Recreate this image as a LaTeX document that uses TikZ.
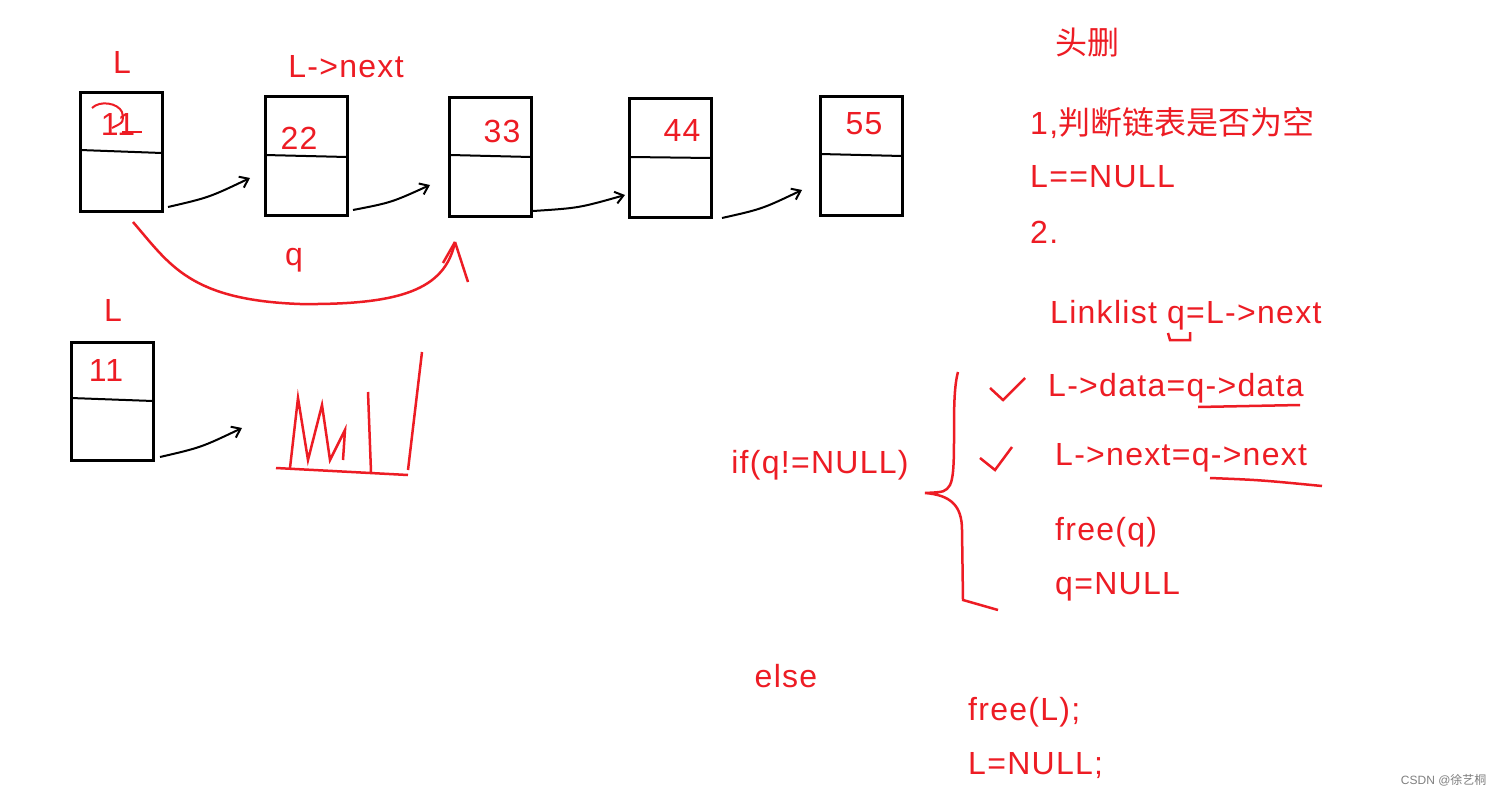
\documentclass[tikz,border=0pt]{standalone}
\usepackage{fontspec}
\setmainfont{Liberation Sans}
\newfontfamily\cjk{Noto Sans CJK SC}
\usetikzlibrary{arrows.meta,calc}
\definecolor{rd}{RGB}{237,28,36}
\begin{document}
\begin{tikzpicture}[x=1pt,y=-1pt,
 cell/.style={draw,line width=3pt,minimum width=82pt,minimum height=118pt,inner sep=0},
 txt/.style={text=rd,font=\fontsize{32}{36}\selectfont\addfontfeature{LetterSpace=4},inner sep=0},
 ltxt/.style={txt,anchor=west},
 blk/.style={line width=2pt,-{Straight Barb[length=8pt,width=12pt]}},
 rl/.style={draw=rd,line width=2.5pt}]
\useasboundingbox[fill=white] (0,0) rectangle (1503,797);
% boxes
\node[cell] (b1) at (121,152) {}; \draw[line width=2pt] (80,150)--(162,153);
\node[cell] (b2) at (306,156) {}; \draw[line width=2pt] (265,155)--(347,157);
\node[cell] (b3) at (490,157) {}; \draw[line width=2pt] (450,155)--(531,157);
\node[cell] (b4) at (670,158) {}; \draw[line width=2pt] (630,157)--(711,158);
\node[cell] (b5) at (861,156) {}; \draw[line width=2pt] (820,154)--(902,156);
\node[cell] (b6) at (112,401) {}; \draw[line width=2pt] (71,398)--(153,401);
% black arrows
\coordinate (a1) at (168,207); \coordinate (a1e) at (250,178);
\coordinate (a2) at (353,210); \coordinate (a2e) at (430,185);
\coordinate (a3) at (533,211); \coordinate (a3e) at (625,195);
\coordinate (a4) at (722,218); \coordinate (a4e) at (802,190);
\coordinate (a5) at (160,457); \coordinate (a5e) at (242,428);
\foreach \s/\e in {a1/a1e,a2/a2e,a3/a3e,a4/a4e,a5/a5e}
 \draw[blk] (\s) .. controls ($(\s)!0.5!(\e)+(0,5)$) .. (\e);
% red curve
\coordinate (r0) at (133,222); \coordinate (r1) at (455,242);
\draw[rl] (r0) .. controls (170,265) and (190,300) .. (300,304)
 .. controls (400,305) and (445,290) .. (r1);
\draw[rl] (r1)--(443,263); \draw[rl] (r1)--(468,282);
% NULL scribble
\draw[rl] (276,468)--(408,475);
\draw[rl] (290,468)--(298,398)--(308,460)--(322,405)--(330,460)--(345,430)--(343,460);
\draw[rl] (371,472)--(368,392); \draw[rl] (408,470)--(422,352);
% texts
\node[txt] (tL) at (122,62) {L};
\node[txt] (tLn) at (346,67) {L->next};
\node[txt] (tq) at (294,260) {q};
\node[txt] (tL2) at (113,310) {L};
\node[txt] (n1) at (118,124) {11};
\draw[rl,line width=2pt] (92,108)..controls(100,100)and(118,103)..(122,112)..controls(124,122)..(112,128);
\draw[rl,line width=2pt] (122,132)--(142,132);
\node[txt] (n2) at (299,138) {22};
\node[txt] (n3) at (502,131) {33};
\node[txt] (n4) at (682,130) {44};
\node[txt] (n5) at (864,124) {55};
\node[txt] (n6) at (106,370) {11};
\node[txt] (h) at (1087,43) {\cjk 头删};
\node[ltxt] (s1) at (1030,123) {1,{\cjk 判断链表是否为空}};
\node[ltxt] (s2) at (1030,177) {L==NULL};
\node[ltxt] (s3) at (1030,232) {2.};
\node[ltxt] (s4) at (1050,315) {Linklist q=L->next};
\node[ltxt] (s5) at (1048,388) {L->data=q->data};
\node[ltxt] (s6) at (1055,458) {L->next=q->next};
\node[ltxt] (s7) at (1055,532) {free(q)};
\node[ltxt] (s8) at (1055,587) {q=NULL};
\node[txt] (if) at (820,465) {if(q!=NULL)};
\node[txt] (el) at (786,676) {else};
\node[ltxt] (f1) at (968,712) {free(L);};
\node[ltxt] (f2) at (968,766) {L=NULL;};
\node[text=gray,font=\fontsize{12}{14}\selectfont,anchor=east] (wm) at (1490,780) {CSDN @{\cjk 徐艺桐}};
% brace
\draw[rl] (958,372) .. controls (950,400) and (958,470) .. (950,485)
 .. controls (945,492) .. (925,493) .. controls (950,495) and (962,505) .. (962,530)
 -- (963,600) -- (998,610);
% checks
\draw[rl] (990,388)--(1003,400)--(1025,378);
\draw[rl] (980,458)--(995,470)--(1012,447);
% underlines
\draw[rl] (1198,407)--(1300,405);
\draw[rl] (1210,478)..controls(1260,480)..(1322,486);
\draw[rl] (1168,333)--(1170,340)--(1190,340)--(1190,332);
\end{tikzpicture}
\end{document}
